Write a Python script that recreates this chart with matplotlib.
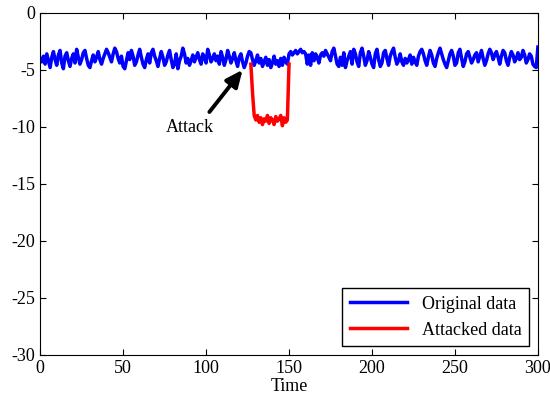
import numpy as np
import matplotlib.pyplot as plt

plt.rcParams['font.family'] = ['Liberation Serif', 'DejaVu Serif']
plt.rcParams['axes.unicode_minus'] = False

# original signal, read by eye (t = 0..300)
original = [
    -4.0, -4.3, -3.8, -4.5, -3.6, -4.2, -4.8, -3.9, -3.4, -4.1,
    -4.6, -3.7, -3.3, -4.4, -4.9, -3.8, -3.5, -4.2, -4.7, -4.0,
    -3.6, -4.4, -3.2, -3.9, -4.5, -4.1, -3.5, -3.3, -4.0, -4.6,
    -4.8, -4.2, -3.7, -4.3, -3.9, -3.4, -4.1, -4.5, -4.0, -3.6,
    -3.2, -3.5, -3.9, -4.3, -3.6, -3.1, -3.4, -4.0, -4.4, -3.8,
    -4.7, -4.9, -4.2, -3.5, -4.1, -3.3, -3.8, -4.6, -4.3, -3.7,
    -3.2, -3.9, -4.5, -4.8, -4.1, -3.6, -4.4, -3.5, -3.2, -3.8,
    -4.2, -4.7, -4.0, -3.4, -3.9, -4.6, -4.3, -3.7, -3.3, -4.1,
    -4.8, -4.5, -3.6, -4.9, -4.2, -3.8, -3.1, -3.6, -4.4, -4.0,
    -4.6, -4.2, -3.7, -4.3, -3.9, -3.5, -4.1, -4.5, -3.6, -3.9,
    -4.4, -3.2, -3.7, -4.3, -4.0, -3.6, -4.2, -3.8, -4.5, -3.4,
    -3.9, -4.6, -4.1, -3.3, -3.8, -4.4, -4.0, -3.5, -4.2, -4.7,
    -3.9, -3.6, -4.3, -4.8, -4.4, -3.8, -3.4, -3.5, -4.1, -4.6,
    -4.2, -3.7, -4.4, -4.0, -4.7, -4.3, -3.9, -4.6, -4.1, -4.8,
    -4.4, -3.8, -4.5, -4.2, -4.7, -4.0, -4.6, -3.9, -4.3, -4.5,
    -3.6, -3.4, -3.7, -3.5, -3.3, -3.6, -3.4, -3.2, -3.5, -3.4,
    -3.6, -4.5, -3.7, -4.6, -3.5, -4.2, -3.6, -3.9, -4.4, -3.7,
    -3.5, -3.8, -3.3, -3.6, -3.9, -4.2, -3.4, -3.1, -3.8, -4.5,
    -4.7, -3.9, -4.6, -3.5, -4.8, -4.2, -3.8, -3.4, -4.5, -3.2,
    -3.6, -4.3, -4.7, -3.5, -3.1, -3.8, -4.6, -4.2, -3.4, -3.9,
    -4.5, -4.8, -3.6, -3.2, -4.1, -4.7, -4.4, -3.5, -3.3, -4.0,
    -4.6, -3.8, -3.4, -3.1, -3.9, -4.5, -4.2, -3.6, -4.3, -4.6,
    -4.0, -4.4, -4.1, -3.7, -4.5, -3.9, -4.3, -4.6, -3.8, -3.4,
    -3.2, -3.6, -4.2, -4.6, -3.9, -3.3, -3.7, -4.4, -4.7, -4.0,
    -3.5, -3.1, -3.6, -4.1, -4.5, -4.8, -4.2, -3.6, -3.3, -3.8,
    -4.6, -4.4, -3.5, -3.2, -4.0, -4.7, -4.3, -3.6, -3.4, -3.9,
    -4.4, -4.1, -3.7, -3.5, -4.3, -3.8, -3.3, -4.0, -4.6, -4.2,
    -3.6, -3.2, -3.5, -4.1, -3.7, -3.4, -3.9, -4.5, -3.8, -3.3,
    -3.5, -4.2, -4.6, -3.9, -3.4, -3.7, -4.3, -4.0, -3.5, -4.1,
    -3.9, -3.3, -3.7, -4.4, -4.1, -3.6, -3.8, -4.5, -4.7, -4.8,
    -3.0,
]
time = np.arange(len(original))

# attacked segment, t = 127..150
attack_time = np.arange(127, 151)
attacked = [
    -4.5, -7.0, -9.0, -9.4, -9.0, -9.6, -9.2, -9.8, -9.3, -9.5,
    -9.0, -9.7, -9.2, -9.4, -9.8, -9.1, -9.5, -9.3, -9.0, -9.9,
    -9.2, -9.6, -9.4, -4.5,
]

fig = plt.figure(figsize=(5.5, 4.01), dpi=100)
ax = fig.add_axes([0.073, 0.115, 0.905, 0.853])
ax.plot(time, original, color='blue', lw=2.5, label='Original data')
ax.plot(attack_time, attacked, color='red', lw=2.5, label='Attacked data')

ax.annotate('', xy=(122, -5.0), xytext=(102, -8.7),
            arrowprops=dict(arrowstyle='-|>,head_width=0.45,head_length=1.0',
                            color='black', lw=2.8, shrinkA=0, shrinkB=0))
ax.text(90, -10.1, 'Attack', fontsize=13, ha='center', va='center')

ax.set_xlim(0, 300)
ax.set_ylim(-30, 0)
ax.set_xticks(range(0, 301, 50))
ax.set_yticks(range(-30, 1, 5))
ax.tick_params(labelsize=13, direction='in', top=True, right=True, length=4)
ax.set_xlabel('Time', fontsize=13, labelpad=1)
ax.legend(loc='lower right', fontsize=13, fancybox=False, edgecolor='black',
          framealpha=1, handlelength=3.2, borderaxespad=0.5)

fig.savefig('out.png')
